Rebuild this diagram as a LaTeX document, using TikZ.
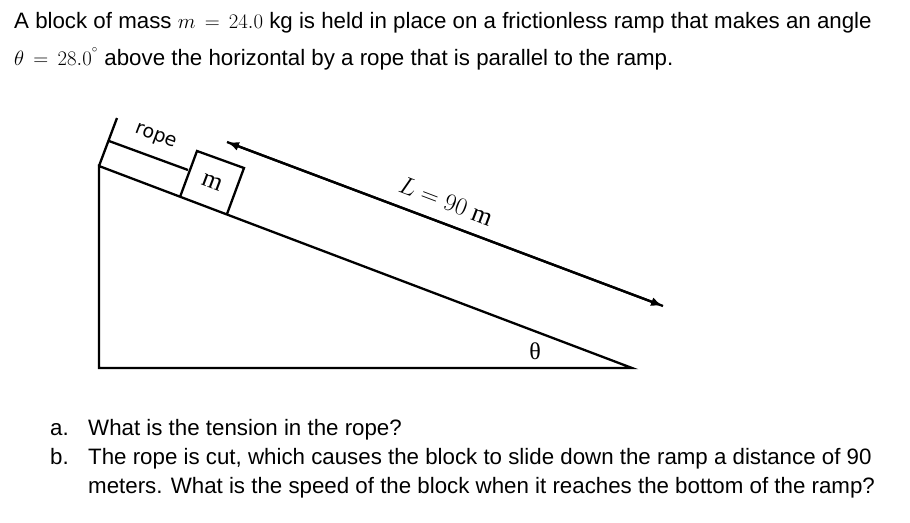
\documentclass[tikz,border=0pt]{standalone}
\usepackage{fontspec}
\usetikzlibrary{arrows.meta}
\setmainfont{Liberation Sans}
\newfontfamily\dv{DejaVu Sans}
\newfontfamily\sr{Liberation Serif}
\begin{document}
\begin{tikzpicture}[x=1pt,y=-1pt,
  txt/.style={anchor=base west,inner sep=0,font=\fontsize{22.3}{26}\selectfont},
  ln/.style={line width=2.3pt,line join=miter}]
\useasboundingbox (0,0) rectangle (910,522);
\node[txt] (l1) at (14,28) {A block of mass $m\,=\,24.0$ kg is held in place on a frictionless ramp that makes an angle};
\node[txt] (l2) at (14,65) {$\theta\,=\,28.0^{^\circ}$ above the horizontal by a rope that is parallel to the ramp.};
\coordinate (A) at (99,166);
\coordinate (B) at (99,368);
\coordinate (C) at (632,368);
\coordinate (W) at (117,118);
\draw[ln] (A) -- (B) -- (C) -- cycle;
\draw[ln] (A) -- (W);
\coordinate (R1) at (109,141);
\coordinate (R2) at (188,170);
\draw[ln] (R1) -- (R2);
\draw[ln] (180,197) -- (197,151) -- (244,168) -- (227,214);
\node[rotate=-20.8,font=\dv\fontsize{19}{22}\selectfont] (rope) at (156,137) {rope};
\node[rotate=-20.8,font=\sr\fontsize{26}{28}\selectfont] (mm) at (212,182) {m};
\coordinate (P) at (227,142);
\coordinate (Q) at (663,306);
\draw[line width=2.3pt,-{Latex[length=12pt,width=9pt]}] (Q) -- (P);
\draw[line width=2.3pt,-{Latex[length=12pt,width=9pt]}] (P) -- (Q);
\node[rotate=-20.8,font=\sr\fontsize{26}{28}\selectfont] (L) at (446,201) {$L = 90$ m};
\node[font=\sr\fontsize{24}{28}\selectfont] (th) at (535,351) {θ};
\node[txt] (qa) at (50,435) {a.};
\node[txt] (qa2) at (88,435) {What is the tension in the rope?};
\node[txt] (qb) at (50,464) {b.};
\node[txt] (qb2) at (88,464) {The rope is cut, which causes the block to slide down the ramp a distance of 90};
\node[txt] (qb3) at (88,493) {meters. What is the speed of the block when it reaches the bottom of the ramp?};
\end{tikzpicture}
\end{document}
